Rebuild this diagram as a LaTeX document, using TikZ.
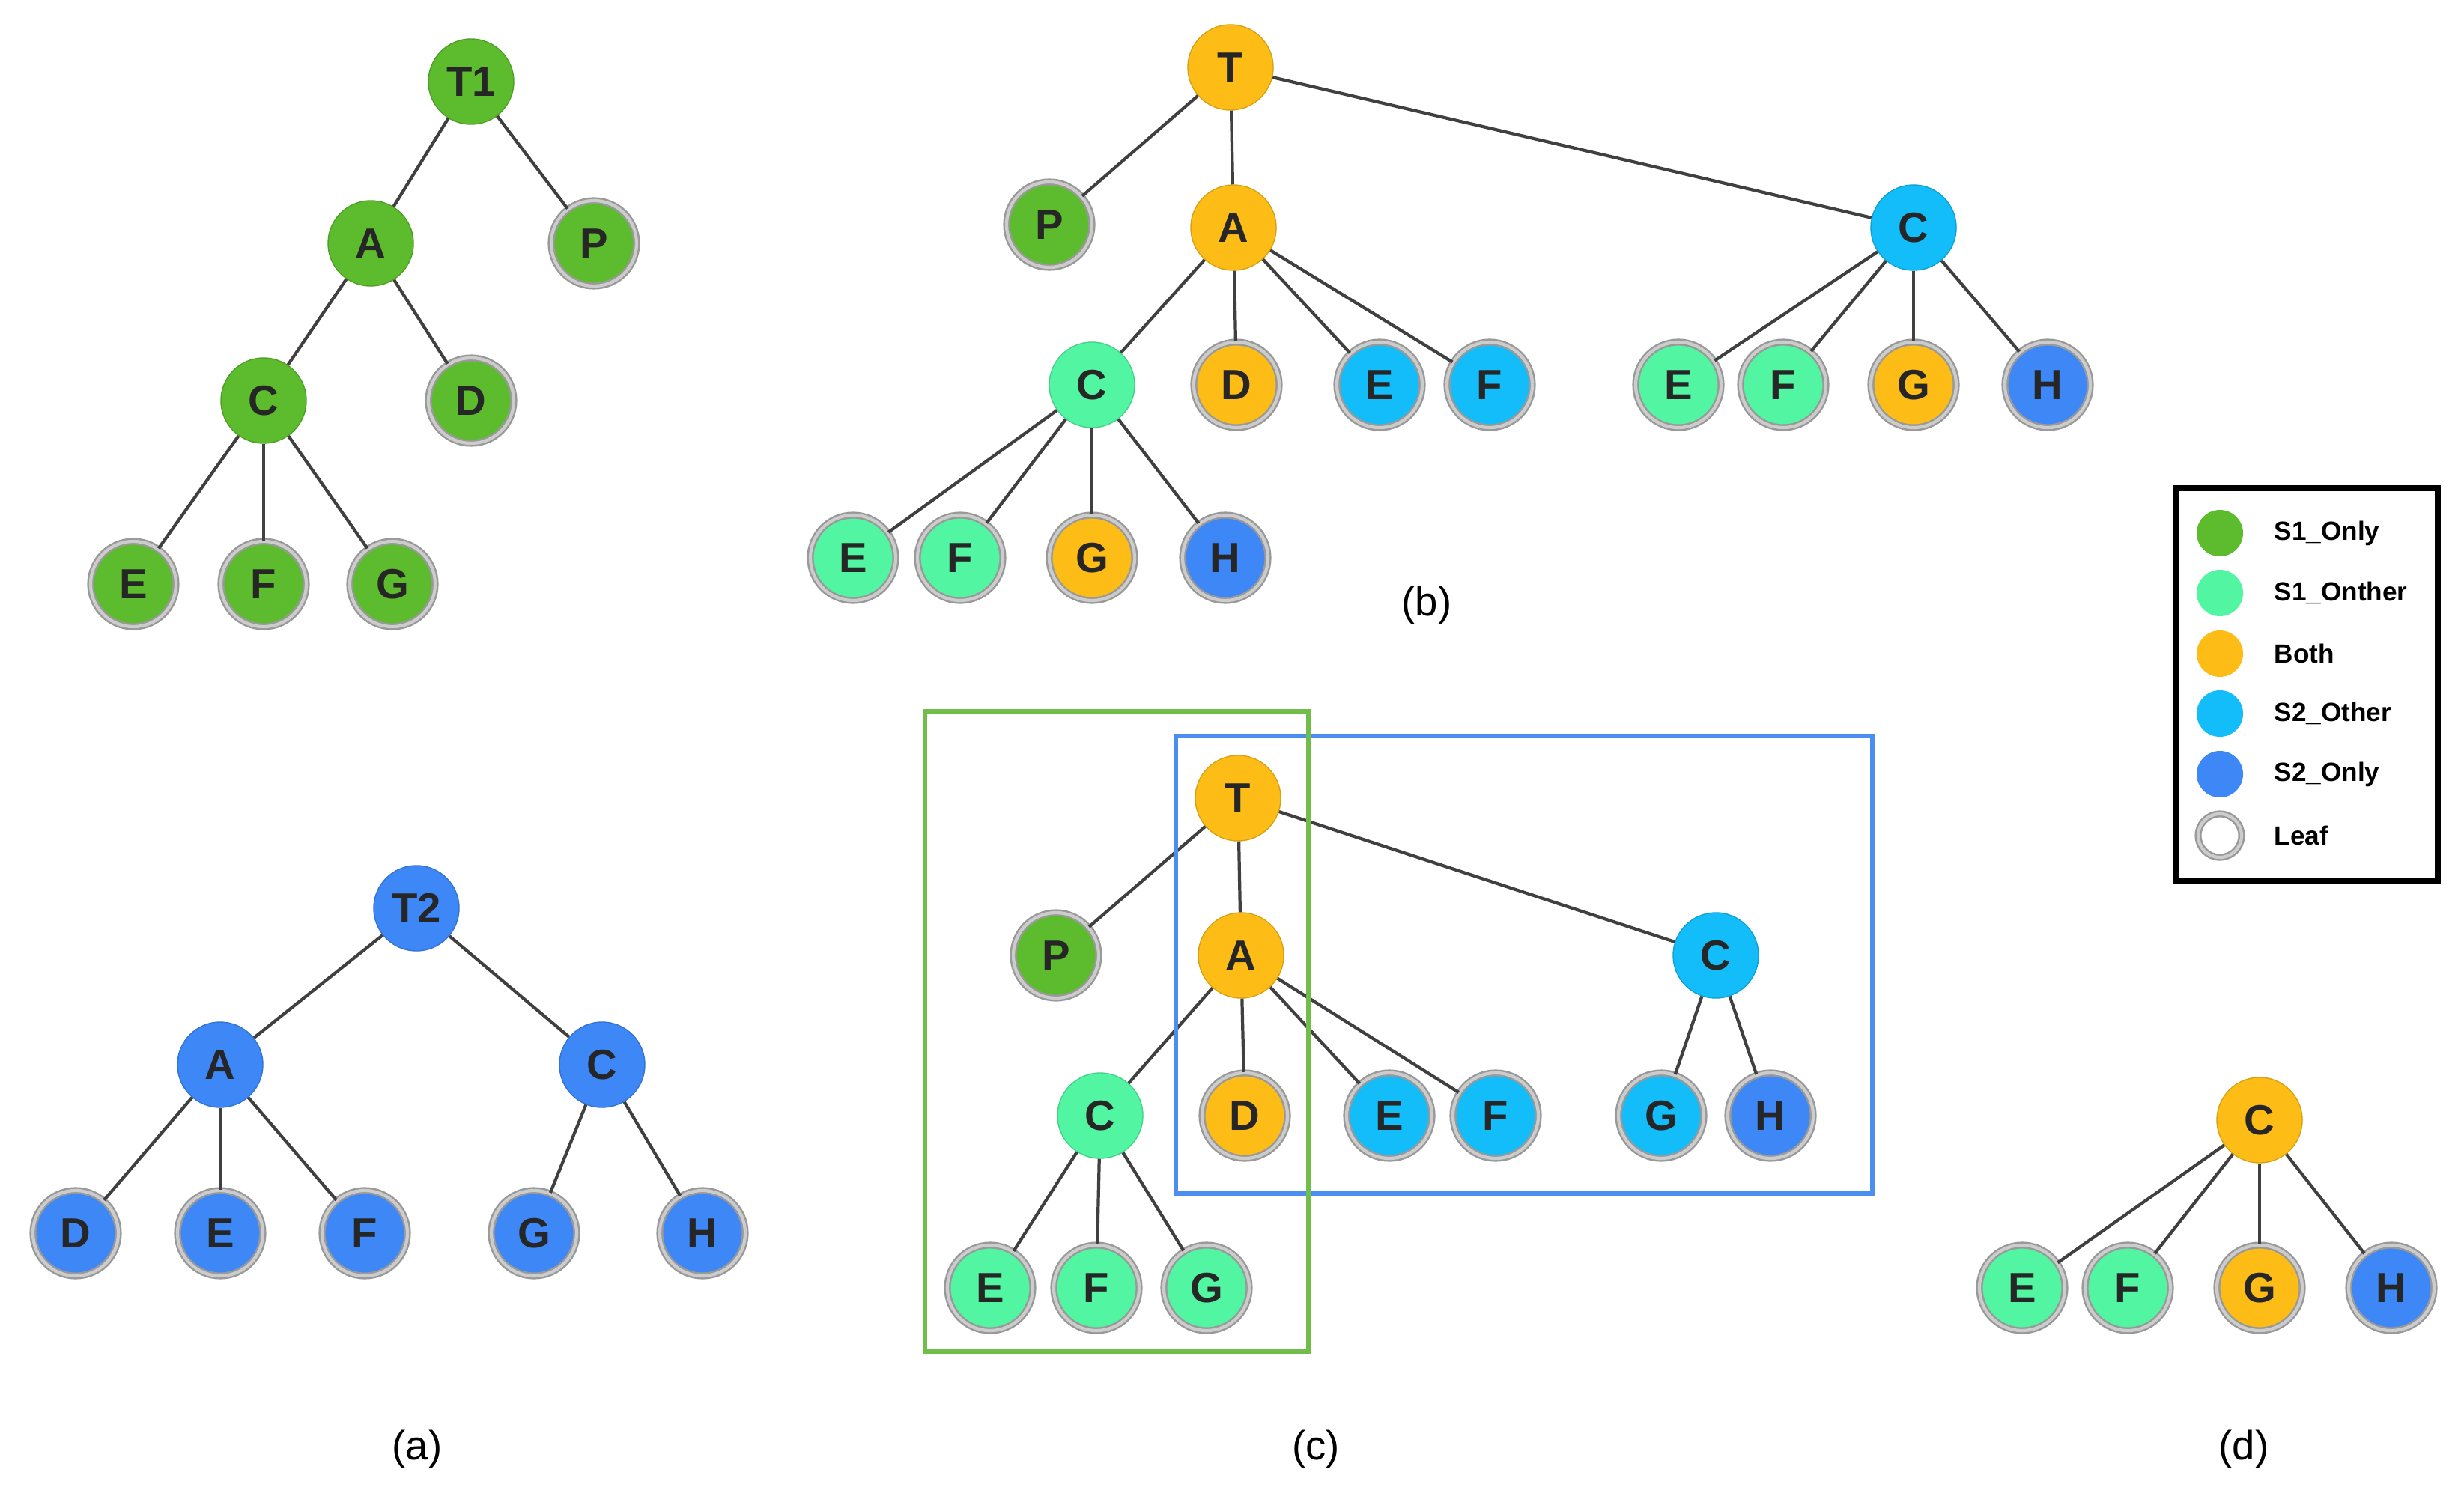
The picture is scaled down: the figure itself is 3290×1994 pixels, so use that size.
\documentclass[tikz,border=0pt]{standalone}
\usepackage{fontspec}
\setmainfont{Liberation Sans}
\usetikzlibrary{positioning}

\definecolor{sonly}{HTML}{5DBB2E}
\definecolor{sother}{HTML}{52F5A2}
\definecolor{both}{HTML}{FDBD16}
\definecolor{tother}{HTML}{12BDF9}
\definecolor{tonly}{HTML}{3D87F7}
\definecolor{gbox}{HTML}{70BD4A}
\definecolor{bbox}{HTML}{4A8FEF}

\tikzset{
    tnode/.style={circle, minimum size=1.14cm, inner sep=0pt, font=\fontsize{16}{16}\selectfont\bfseries, text=black!85},
    inner/.style={tnode, fill=#1, draw=#1!85!black, line width=0.4pt},
    leaf/.style={tnode, fill=#1, draw=gray!80, line width=0.7pt, double=gray!40, double distance=1.2pt},
    edge/.style={draw=black!75, line width=1.2pt},
    lab/.style={font=\fontsize{15.5}{16}\selectfont},
    legtext/.style={anchor=west, inner sep=0pt, font=\fontsize{10}{10}\selectfont\bfseries},
}

\begin{document}
\begin{tikzpicture}[x=0.01cm, y=-0.01cm]
    \useasboundingbox (0,0) rectangle (3290,1994);

    % (a) first tree
    \node[inner=sonly] (aT) at (629,109){T1};
    \node[inner=sonly] (aA) at (495,325){A};
    \node[leaf=sonly] (aP) at (793,325){P};
    \node[inner=sonly] (aC) at (352,535){C};
    \node[leaf=sonly] (aD) at (629,535){D};
    \node[leaf=sonly] (aE) at (178,780){E};
    \node[leaf=sonly] (aF) at (352,780){F};
    \node[leaf=sonly] (aG) at (524,780){G};
    \draw[edge] (aT) -- (aA);
    \draw[edge] (aT) -- (aP);
    \draw[edge] (aA) -- (aC);
    \draw[edge] (aA) -- (aD);
    \draw[edge] (aC) -- (aE);
    \draw[edge] (aC) -- (aF);
    \draw[edge] (aC) -- (aG);

    % (a) second tree
    \node[inner=tonly] (uT) at (556,1213){T2};
    \node[inner=tonly] (uA) at (294,1422){A};
    \node[inner=tonly] (uC) at (804,1422){C};
    \node[leaf=tonly] (uD) at (101,1647){D};
    \node[leaf=tonly] (uE) at (294,1647){E};
    \node[leaf=tonly] (uF) at (487,1647){F};
    \node[leaf=tonly] (uG) at (713,1647){G};
    \node[leaf=tonly] (uH) at (938,1647){H};
    \draw[edge] (uT) -- (uA);
    \draw[edge] (uT) -- (uC);
    \draw[edge] (uA) -- (uD);
    \draw[edge] (uA) -- (uE);
    \draw[edge] (uA) -- (uF);
    \draw[edge] (uC) -- (uG);
    \draw[edge] (uC) -- (uH);

    % (b)
    \node[inner=both] (bT) at (1643,90){T};
    \node[leaf=sonly] (bP) at (1401,300){P};
    \node[inner=both] (bA) at (1647,304){A};
    \node[inner=tother] (bC) at (2555,304){C};
    \node[inner=sother] (bAC) at (1458,514){C};
    \node[leaf=both] (bAD) at (1651,514){D};
    \node[leaf=tother] (bAE) at (1842,514){E};
    \node[leaf=tother] (bAF) at (1989,514){F};
    \node[leaf=sother] (bCE) at (2241,514){E};
    \node[leaf=sother] (bCF) at (2381,514){F};
    \node[leaf=both] (bCG) at (2555,514){G};
    \node[leaf=tonly] (bCH) at (2734,514){H};
    \node[leaf=sother] (bE) at (1139,745){E};
    \node[leaf=sother] (bF) at (1282,745){F};
    \node[leaf=both] (bG) at (1458,745){G};
    \node[leaf=tonly] (bH) at (1636,745){H};
    \draw[edge] (bT) -- (bP);
    \draw[edge] (bT) -- (bA);
    \draw[edge] (bT) -- (bC);
    \draw[edge] (bA) -- (bAC);
    \draw[edge] (bA) -- (bAD);
    \draw[edge] (bA) -- (bAE);
    \draw[edge] (bA) -- (bAF);
    \draw[edge] (bC) -- (bCE);
    \draw[edge] (bC) -- (bCF);
    \draw[edge] (bC) -- (bCG);
    \draw[edge] (bC) -- (bCH);
    \draw[edge] (bAC) -- (bE);
    \draw[edge] (bAC) -- (bF);
    \draw[edge] (bAC) -- (bG);
    \draw[edge] (bAC) -- (bH);

    % (c)
    \node[inner=both] (cT) at (1653,1066){T};
    \node[leaf=sonly] (cP) at (1410,1276){P};
    \node[inner=both] (cA) at (1657,1276){A};
    \node[inner=tother] (cC) at (2291,1276){C};
    \node[inner=sother] (cAC) at (1469,1490){C};
    \node[leaf=both] (cAD) at (1662,1490){D};
    \node[leaf=tother] (cAE) at (1855,1490){E};
    \node[leaf=tother] (cAF) at (1997,1490){F};
    \node[leaf=tother] (cCG) at (2218,1490){G};
    \node[leaf=tonly] (cCH) at (2364,1490){H};
    \node[leaf=sother] (cE) at (1322,1720){E};
    \node[leaf=sother] (cF) at (1464,1720){F};
    \node[leaf=sother] (cG) at (1611,1720){G};
    \draw[edge] (cT) -- (cP);
    \draw[edge] (cT) -- (cA);
    \draw[edge] (cT) -- (cC);
    \draw[edge] (cA) -- (cAC);
    \draw[edge] (cA) -- (cAD);
    \draw[edge] (cA) -- (cAE);
    \draw[edge] (cA) -- (cAF);
    \draw[edge] (cC) -- (cCG);
    \draw[edge] (cC) -- (cCH);
    \draw[edge] (cAC) -- (cE);
    \draw[edge] (cAC) -- (cF);
    \draw[edge] (cAC) -- (cG);
    \draw[bbox, line width=1.5pt] (1570,983) rectangle (2500,1594);
    \draw[gbox, line width=1.5pt] (1235,950) rectangle (1747,1805);

    % (d)
    \node[inner=both] (dC) at (3017,1496){C};
    \node[leaf=sother] (dE) at (2700,1720){E};
    \node[leaf=sother] (dF) at (2841,1720){F};
    \node[leaf=both] (dG) at (3017,1720){G};
    \node[leaf=tonly] (dH) at (3193,1720){H};
    \draw[edge] (dC) -- (dE);
    \draw[edge] (dC) -- (dF);
    \draw[edge] (dC) -- (dG);
    \draw[edge] (dC) -- (dH);

    % captions
    \node[lab] (labA) at (557,1935){(a)};
    \node[lab] (labB) at (1905,808){(b)};
    \node[lab] (labC) at (1757,1935){(c)};
    \node[lab] (labD) at (2996,1935){(d)};

    % legend
    \draw[line width=2.3pt] (2906,652) rectangle (3255,1177);
    \node[circle, fill=sonly, minimum size=0.62cm, inner sep=0pt] (lg1) at (2964,712){};
    \node[circle, fill=sother, minimum size=0.62cm, inner sep=0pt] (lg2) at (2964,792){};
    \node[circle, fill=both, minimum size=0.62cm, inner sep=0pt] (lg3) at (2964,873){};
    \node[circle, fill=tother, minimum size=0.62cm, inner sep=0pt] (lg4) at (2964,953){};
    \node[circle, fill=tonly, minimum size=0.62cm, inner sep=0pt] (lg5) at (2964,1034){};
    \node[circle, fill=white, draw=gray!80, line width=0.7pt, double=gray!40, double distance=1.2pt, minimum size=0.58cm, inner sep=0pt] (lg6) at (2964,1116){};
    \node[legtext] (lt1) at (3036,712){S1\_Only};
    \node[legtext] (lt2) at (3036,792){S1\_Onther};
    \node[legtext] (lt3) at (3036,873){Both};
    \node[legtext] (lt4) at (3036,953){S2\_Other};
    \node[legtext] (lt5) at (3036,1034){S2\_Only};
    \node[legtext] (lt6) at (3036,1116){Leaf};
\end{tikzpicture}
\end{document}
